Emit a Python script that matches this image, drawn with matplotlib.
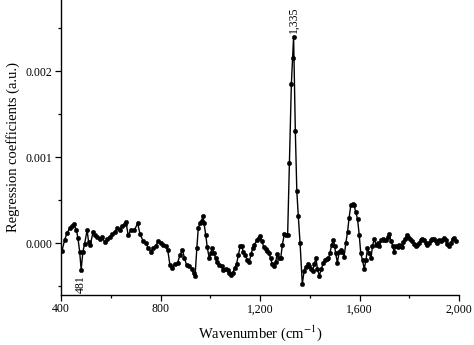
import matplotlib
matplotlib.use("Agg")
import matplotlib.pyplot as plt
from matplotlib.ticker import MultipleLocator, FuncFormatter

plt.rcParams['font.family'] = ['Liberation Serif', 'DejaVu Serif']
plt.rcParams['mathtext.fontset'] = 'stix'

# Wavenumber (cm-1) and PLS regression coefficient at each variable
wavenumber = [
    404, 415, 425, 435, 444, 452, 462, 468, 475, 481, 488, 495, 505, 511, 518,
    529, 535, 545, 556, 565, 576, 586, 596, 605, 616, 626, 636, 645, 656, 661,
    670, 681, 695, 708, 718, 731, 741, 751, 762, 771, 781, 791, 802, 811, 821,
    829, 838, 847, 858, 869, 878, 888, 896, 905, 915, 925, 933, 939, 946, 952,
    959, 966, 970, 975, 982, 988, 996, 1002, 1008, 1015, 1022, 1028, 1036, 1046,
    1052, 1062, 1070, 1077, 1083, 1090, 1099, 1106, 1113, 1120, 1126, 1133, 1141,
    1149, 1157, 1164, 1171, 1177, 1187, 1196, 1200, 1207, 1216, 1223, 1229, 1236,
    1243, 1249, 1256, 1263, 1269, 1276, 1283, 1290, 1298, 1303, 1311, 1318, 1326,
    1331, 1335, 1342, 1348, 1354, 1361, 1370, 1377, 1384, 1392, 1398, 1405, 1412,
    1418, 1425, 1431, 1438, 1447, 1454, 1461, 1468, 1475, 1481, 1488, 1495, 1500,
    1504, 1511, 1518, 1524, 1531, 1538, 1545, 1552, 1558, 1565, 1572, 1578, 1585,
    1592, 1599, 1605, 1612, 1619, 1626, 1632, 1639, 1646, 1652, 1659, 1666, 1673,
    1680, 1687, 1693, 1700, 1707, 1713, 1719, 1727, 1733, 1739, 1746, 1753, 1759,
    1766, 1772, 1776, 1783, 1790, 1796, 1803, 1810, 1819, 1826, 1832, 1839, 1846,
    1852, 1859, 1866, 1873, 1879, 1886, 1893, 1900, 1906, 1913, 1920, 1926, 1933,
    1940, 1947, 1953, 1960, 1966, 1975, 1981, 1987,
]
coefficient = [
    -0.00009, 0.00004, 0.00012, 0.00017, 0.00020, 0.00022, 0.00015, 0.00006, -0.00010, -0.00031,
    -0.00010, -0.00001, 0.00015, 0.00001, -0.00002, 0.00013, 0.00009, 0.00007, 0.00005, 0.00007,
    0.00001, 0.00005, 0.00007, 0.00010, 0.00013, 0.00017, 0.00015, 0.00020, 0.00022, 0.00025,
    0.00009, 0.00015, 0.00015, 0.00023, 0.00010, 0.00002, 0.00000, -0.00006, -0.00010, -0.00006,
    -0.00003, 0.00002, 0.00000, -0.00002, -0.00004, -0.00008, -0.00026, -0.00029, -0.00024, -0.00023,
    -0.00014, -0.00008, -0.00017, -0.00026, -0.00027, -0.00030, -0.00035, -0.00038, -0.00006, 0.00018,
    0.00023, 0.00026, 0.00031, 0.00023, 0.00009, -0.00005, -0.00018, -0.00012, -0.00006, -0.00012,
    -0.00018, -0.00022, -0.00026, -0.00027, -0.00031, -0.00030, -0.00031, -0.00035, -0.00037, -0.00035,
    -0.00029, -0.00024, -0.00014, -0.00004, -0.00004, -0.00010, -0.00014, -0.00020, -0.00022, -0.00013,
    -0.00006, -0.00002, 0.00003, 0.00006, 0.00008, 0.00002, -0.00005, -0.00007, -0.00009, -0.00012,
    -0.00018, -0.00025, -0.00027, -0.00022, -0.00013, -0.00018, -0.00018, -0.00002, 0.00011, 0.00009,
    0.00009, 0.00093, 0.00185, 0.00216, 0.00240, 0.00130, 0.00060, 0.00031, 0.00000, -0.00048,
    -0.00033, -0.00028, -0.00025, -0.00027, -0.00030, -0.00033, -0.00024, -0.00018, -0.00030, -0.00038,
    -0.00030, -0.00023, -0.00020, -0.00019, -0.00018, -0.00012, -0.00002, 0.00003, -0.00003, -0.00012,
    -0.00023, -0.00011, -0.00008, -0.00010, -0.00016, 0.00000, 0.00013, 0.00029, 0.00044, 0.00045,
    0.00044, 0.00036, 0.00028, 0.00009, -0.00012, -0.00020, -0.00030, -0.00020, -0.00006, -0.00012,
    -0.00018, -0.00004, 0.00005, -0.00002, 0.00000, -0.00004, 0.00003, 0.00005, 0.00003, 0.00004,
    0.00007, 0.00010, 0.00002, -0.00003, -0.00010, -0.00004, -0.00005, -0.00002, -0.00003, -0.00005,
    0.00001, 0.00005, 0.00009, 0.00007, 0.00005, 0.00002, -0.00001, -0.00004, -0.00002, 0.00000,
    0.00003, 0.00005, 0.00003, 0.00000, -0.00002, 0.00000, 0.00003, 0.00005, 0.00005, 0.00002,
    0.00000, 0.00003, 0.00002, 0.00004, 0.00006, 0.00003, -0.00001, -0.00004, 0.00000, 0.00005,
    0.00006, 0.00002,
]

# Annotated bands (wavenumber, label)
band_labels = [(481, "481"), (1335, "1,335")]

fig = plt.figure(figsize=(4.74, 3.45), dpi=100)
ax = fig.add_axes([0.1287, 0.145, 0.8397, 0.855])

ax.plot(wavenumber, coefficient, color='black', linewidth=1.0,
        marker='o', markersize=3.2, markerfacecolor='black',
        markeredgecolor='black', markeredgewidth=0.3)

lookup = dict(zip(wavenumber, coefficient))
for wn, text in band_labels:
    val = lookup[wn]
    if val < 0:
        ax.annotate(text, xy=(wn, val), xytext=(0, -4), textcoords='offset points',
                    rotation=90, ha='center', va='top', fontsize=8.5)
    else:
        ax.annotate(text, xy=(wn, val), xytext=(0, 3), textcoords='offset points',
                    rotation=90, ha='center', va='bottom', fontsize=8.5)

ax.set_xlim(400, 2000)
ax.set_ylim(-0.000605, 0.00283)

ax.xaxis.set_major_locator(MultipleLocator(400))
ax.xaxis.set_minor_locator(MultipleLocator(200))
ax.yaxis.set_major_locator(MultipleLocator(0.001))
ax.yaxis.set_minor_locator(MultipleLocator(0.0005))
ax.xaxis.set_major_formatter(FuncFormatter(lambda v, p: f"{v:,.0f}"))
ax.yaxis.set_major_formatter(FuncFormatter(lambda v, p: f"{v:.3f}"))

for s in ('top', 'right'):
    ax.spines[s].set_visible(False)
for s in ('left', 'bottom'):
    ax.spines[s].set_linewidth(1.0)

ax.tick_params(axis='both', which='major', direction='out', length=4, width=0.9,
               labelsize=8.5, pad=2)
ax.tick_params(axis='both', which='minor', direction='out', length=2.5, width=0.9)

ax.set_xlabel("Wavenumber (cm$^{-1}$)", fontsize=10.5, labelpad=6)
ax.set_ylabel("Regression coefficients (a.u.)", fontsize=10.5, labelpad=4)

fig.savefig("out.png", dpi=100)
